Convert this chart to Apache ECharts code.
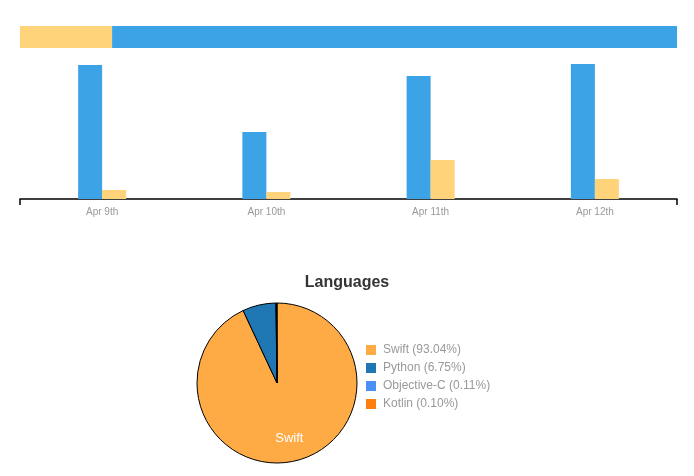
<!DOCTYPE html>
<html>
<head>
<meta charset="utf-8">
<script src="https://cdn.jsdelivr.net/npm/echarts@6/dist/echarts.min.js"></script>
<style>
html,body{margin:0;padding:0;background:#fff;}
#chart{width:694px;height:476px;}
</style>
</head>
<body>
<div id="chart"></div>
<script>
// ---- data ----
const days = ['Apr 9th', 'Apr 10th', 'Apr 11th', 'Apr 12th'];
const blueValues = [134, 67, 123, 135];
const yellowValues = [9, 7, 39, 20];
const totalYellow = [75];
const totalBlue = [460];
const langNames = ['Swift', 'Python', 'Objective-C', 'Kotlin'];
const langValues = [93.04, 6.75, 0.11, 0.10];
const langColors = ['#ffab45', '#1f77b4', '#4a90f7', '#ff7f0e'];

const BLUE = '#3da3e7';
const YELLOW = '#ffd37a';
const FONT = '"Liberation Sans", Arial, Helvetica, sans-serif';
const PIE_C = [277, 383];
const PIE_R = 80;

const chart = echarts.init(document.getElementById('chart'), null, {renderer: 'canvas'});
const option = {
  animation: false,
  textStyle: {fontFamily: FONT},
  title: {
    text: 'Languages',
    left: 'center',
    top: 270,
    textStyle: {fontFamily: FONT, fontSize: 16, fontWeight: 'bold', color: '#333'}
  },
  legend: {
    orient: 'vertical',
    left: 366,
    top: 344,
    padding: 0,
    itemWidth: 10,
    itemHeight: 10,
    itemGap: 6,
    icon: 'rect',
    itemStyle: {borderWidth: 0},
    data: langNames,
    textStyle: {fontFamily: FONT, fontSize: 12, color: '#999', padding: [0, 0, 0, 2]},
    formatter: function (name) {
      const i = langNames.indexOf(name);
      return name + ' (' + langValues[i].toFixed(2) + '%)';
    }
  },
  grid: [
    {left: 20, right: 17, top: 26, height: 22},
    {left: 20, right: 17, top: 64, bottom: 277}
  ],
  xAxis: [
    {type: 'value', gridIndex: 0, show: false, min: 0, max: 'dataMax'},
    {
      type: 'category', gridIndex: 1, data: days,
      axisLine: {show: true, lineStyle: {color: '#000', width: 1.5}},
      axisTick: {show: true, length: 6, interval: function (idx) { return idx === 0; }, lineStyle: {color: '#000', width: 1.5}},
      axisLabel: {fontFamily: FONT, fontSize: 10, color: '#999', margin: 8, interval: 0}
    }
  ],
  yAxis: [
    {type: 'category', gridIndex: 0, show: false, data: ['total']},
    {type: 'value', gridIndex: 1, show: false, min: 0, max: 135}
  ],
  series: [
    {type: 'bar', xAxisIndex: 0, yAxisIndex: 0, stack: 'tot', data: totalYellow, barWidth: 22, itemStyle: {color: YELLOW}},
    {type: 'bar', xAxisIndex: 0, yAxisIndex: 0, stack: 'tot', data: totalBlue, barWidth: 22, itemStyle: {color: BLUE}},
    {type: 'bar', xAxisIndex: 1, yAxisIndex: 1, data: blueValues, barWidth: 24, barGap: '0%', itemStyle: {color: BLUE}},
    {type: 'bar', xAxisIndex: 1, yAxisIndex: 1, data: yellowValues, barWidth: 24, barGap: '0%', itemStyle: {color: YELLOW}},
    {
      type: 'pie',
      center: PIE_C,
      radius: PIE_R,
      startAngle: 90,
      clockwise: true,
      data: langNames.map((n, i) => ({name: n, value: langValues[i], itemStyle: {color: langColors[i]}})),
      itemStyle: {borderColor: '#000', borderWidth: 1},
      emphasis: {disabled: true},
      label: {
        show: true,
        position: 'inside',
        color: '#fff',
        fontFamily: FONT,
        fontSize: 13,
        formatter: function (p) { return p.percent > 10 ? p.name : ''; }
      },
      labelLayout: function (params) {
        const r = params.labelRect;
        const cx = r.x + r.width / 2, cy = r.y + r.height / 2;
        const dx = cx - PIE_C[0], dy = cy - PIE_C[1];
        const d = Math.sqrt(dx * dx + dy * dy) || 1;
        const target = 57;
        return {dx: dx / d * target - dx, dy: dy / d * target - dy};
      }
    }
  ]
};
chart.setOption(option);
</script>
</body>
</html>
